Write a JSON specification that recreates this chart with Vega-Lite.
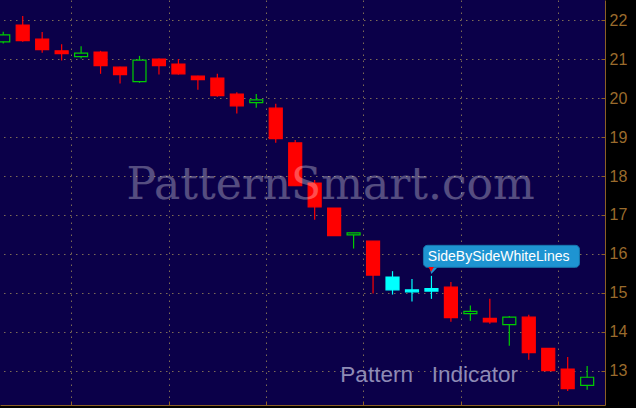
{
  "$schema": "https://vega.github.io/schema/vega-lite/v6.json",
  "autosize": "none",
  "padding": {"left": 0, "top": 0, "right": 31, "bottom": 3},
  "width": 605,
  "height": 405,
  "background": "#000000",
  "datasets": {
    "candles": [
      {"i": 0, "open": 21.44, "high": 21.70, "low": 21.40, "close": 21.62, "kind": "up"},
      {"i": 1, "open": 21.87, "high": 22.10, "low": 21.44, "close": 21.47, "kind": "down"},
      {"i": 2, "open": 21.51, "high": 21.69, "low": 21.16, "close": 21.24, "kind": "down"},
      {"i": 3, "open": 21.21, "high": 21.38, "low": 20.96, "close": 21.14, "kind": "down"},
      {"i": 4, "open": 21.06, "high": 21.33, "low": 21.01, "close": 21.15, "kind": "up"},
      {"i": 5, "open": 21.18, "high": 21.21, "low": 20.62, "close": 20.83, "kind": "down"},
      {"i": 6, "open": 20.79, "high": 20.80, "low": 20.37, "close": 20.60, "kind": "down"},
      {"i": 7, "open": 20.42, "high": 21.08, "low": 20.39, "close": 20.97, "kind": "up"},
      {"i": 8, "open": 21.00, "high": 21.01, "low": 20.60, "close": 20.83, "kind": "down"},
      {"i": 9, "open": 20.87, "high": 21.00, "low": 20.60, "close": 20.62, "kind": "down"},
      {"i": 10, "open": 20.56, "high": 20.57, "low": 20.21, "close": 20.47, "kind": "down"},
      {"i": 11, "open": 20.51, "high": 20.62, "low": 20.03, "close": 20.06, "kind": "down"},
      {"i": 12, "open": 20.10, "high": 20.15, "low": 19.60, "close": 19.80, "kind": "down"},
      {"i": 13, "open": 19.88, "high": 20.10, "low": 19.75, "close": 19.95, "kind": "up"},
      {"i": 14, "open": 19.74, "high": 19.85, "low": 18.85, "close": 18.96, "kind": "down"},
      {"i": 15, "open": 18.85, "high": 18.92, "low": 17.75, "close": 17.75, "kind": "down"},
      {"i": 16, "open": 17.82, "high": 17.90, "low": 16.88, "close": 17.21, "kind": "down"},
      {"i": 17, "open": 17.18, "high": 17.18, "low": 16.47, "close": 16.47, "kind": "down"},
      {"i": 18, "open": 16.49, "high": 16.54, "low": 16.14, "close": 16.54, "kind": "up"},
      {"i": 19, "open": 16.33, "high": 16.33, "low": 14.99, "close": 15.46, "kind": "down"},
      {"i": 20, "open": 15.08, "high": 15.56, "low": 14.96, "close": 15.41, "kind": "pattern"},
      {"i": 21, "open": 15.03, "high": 15.36, "low": 14.78, "close": 15.08, "kind": "pattern"},
      {"i": 22, "open": 15.05, "high": 15.44, "low": 14.85, "close": 15.11, "kind": "pattern"},
      {"i": 23, "open": 15.15, "high": 15.28, "low": 14.26, "close": 14.37, "kind": "down"},
      {"i": 24, "open": 14.47, "high": 14.68, "low": 14.29, "close": 14.53, "kind": "up"},
      {"i": 25, "open": 14.35, "high": 14.85, "low": 14.21, "close": 14.26, "kind": "down"},
      {"i": 26, "open": 14.19, "high": 14.41, "low": 13.65, "close": 14.38, "kind": "up"},
      {"i": 27, "open": 14.38, "high": 14.44, "low": 13.29, "close": 13.47, "kind": "down"},
      {"i": 28, "open": 13.58, "high": 13.58, "low": 13.01, "close": 13.01, "kind": "down"},
      {"i": 29, "open": 13.05, "high": 13.36, "low": 12.49, "close": 12.55, "kind": "down"},
      {"i": 30, "open": 12.63, "high": 13.13, "low": 12.52, "close": 12.84, "kind": "up"}
    ],
    "signals": [
      {"i": 22, "price": 15.44, "label": "SideBySideWhiteLines"}
    ],
    "notes": [
      {"note": "PatternSmart.com"}
    ],
    "indicator": [
      {"note": "Pattern\u00a0\u00a0\u00a0Indicator"}
    ]
  },
  "layer": [
    {
      "data": {"name": "candles"},
      "mark": {"type": "rule", "strokeWidth": 1.2, "clip": true},
      "encoding": {
        "x": {
          "field": "i",
          "type": "quantitative",
          "scale": {"domain": [0.09, 30.66], "nice": false, "zero": false},
          "axis": {
            "orient": "bottom",
            "title": null,
            "labels": false,
            "values": [3.5, 8.5, 13.5, 18.5, 23.5, 28.5],
            "grid": true,
            "tickSize": -4
          }
        },
        "y": {
          "field": "low",
          "type": "quantitative",
          "scale": {"domain": [12.128, 22.513], "nice": false, "zero": false},
          "axis": {
            "orient": "right",
            "title": null,
            "values": [13, 14, 15, 16, 17, 18, 19, 20, 21, 22],
            "grid": true,
            "tickSize": -4,
            "labelPadding": 8
          }
        },
        "y2": {"field": "high"},
        "stroke": {
          "field": "kind",
          "type": "nominal",
          "scale": {"domain": ["up", "down", "pattern"], "range": ["#00cc00", "#ff0000", "#00ffff"]},
          "legend": null
        }
      }
    },
    {
      "data": {"name": "candles"},
      "mark": {"type": "bar", "width": 13, "strokeWidth": 1.2, "clip": true},
      "encoding": {
        "x": {"field": "i", "type": "quantitative"},
        "y": {"field": "open", "type": "quantitative"},
        "y2": {"field": "close"},
        "stroke": {"field": "kind", "type": "nominal", "legend": null},
        "fill": {
          "field": "kind",
          "type": "nominal",
          "scale": {"domain": ["up", "down", "pattern"], "range": ["#0b0049", "#ff0000", "#00ffff"]},
          "legend": null
        }
      }
    },
    {
      "data": {"name": "notes"},
      "mark": {
        "type": "text",
        "font": "DejaVu Serif",
        "fontSize": 44,
        "fill": "#ffffff",
        "opacity": 0.3,
        "align": "center",
        "baseline": "alphabetic"
      },
      "encoding": {
        "x": {"datum": 16.82, "type": "quantitative"},
        "y": {"datum": 17.4, "type": "quantitative"},
        "text": {"field": "note"}
      }
    },
    {
      "data": {"name": "indicator"},
      "mark": {
        "type": "text",
        "font": "Liberation Sans",
        "fontSize": 22.5,
        "fill": "#8e8bb5",
        "align": "left",
        "baseline": "alphabetic"
      },
      "encoding": {
        "x": {"datum": 17.32, "type": "quantitative"},
        "y": {"datum": 12.726, "type": "quantitative"},
        "text": {"field": "note"}
      }
    },
    {
      "data": {"name": "signals"},
      "encoding": {
        "x": {"field": "i", "type": "quantitative"},
        "y": {"field": "price", "type": "quantitative"}
      },
      "layer": [
        {
          "mark": {
            "type": "point",
            "shape": "M-0.95,-1L1.45,-1L-0.45,1Z",
            "size": 49,
            "filled": true,
            "opacity": 1,
            "fill": "#1e94d2",
            "strokeWidth": 0,
            "xOffset": 1.4,
            "yOffset": -5.3
          }
        },
        {
          "mark": {
            "type": "rect",
            "width": 156,
            "height": 22,
            "cornerRadius": 4,
            "fill": "#1e94d2",
            "stroke": "#1675ae",
            "strokeWidth": 1,
            "xOffset": 70,
            "yOffset": -19.5
          }
        },
        {
          "mark": {
            "type": "point",
            "shape": "triangle-down",
            "size": 30,
            "filled": true,
            "opacity": 1,
            "fill": "#ff0000",
            "strokeWidth": 0,
            "xOffset": -0.3,
            "yOffset": -6.5
          }
        },
        {
          "mark": {
            "type": "text",
            "font": "Liberation Sans",
            "fontSize": 14,
            "fill": "#ffffff",
            "align": "left",
            "baseline": "alphabetic",
            "dx": -3.6,
            "dy": -15
          },
          "encoding": {"text": {"field": "label"}}
        }
      ]
    }
  ],
  "config": {
    "view": {"fill": "#0b0049", "stroke": null},
    "axis": {
      "domainColor": "#8c5f26",
      "domainWidth": 1,
      "tickColor": "#8c5f26",
      "tickWidth": 1,
      "gridColor": "#7d6b55",
      "gridDash": [1.5, 4.5],
      "gridOpacity": 1,
      "gridWidth": 1,
      "labelColor": "#9a6b2c",
      "labelFont": "Liberation Sans Narrow, Liberation Sans, sans-serif",
      "labelFontSize": 16
    }
  }
}
